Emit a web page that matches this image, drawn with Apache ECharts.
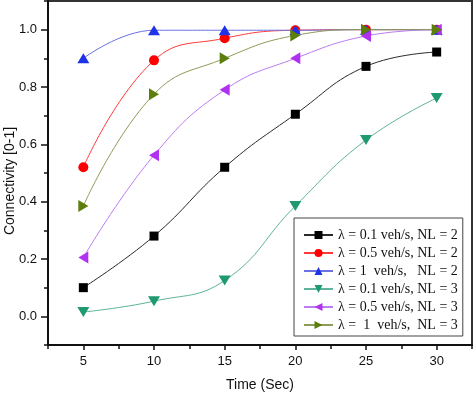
<!DOCTYPE html>
<html>
<head>
<meta charset="utf-8">
<script src="https://cdn.jsdelivr.net/npm/echarts@6/dist/echarts.min.js"></script>
<style>
html,body{margin:0;padding:0;background:#fff;}
#c{width:474px;height:395px;}
</style>
</head>
<body>
<div id="c"></div>
<script>
const times = [5, 10, 15, 20, 25, 30];
const s01nl2 = [0.10, 0.28, 0.52, 0.705, 0.872, 0.922];
const s05nl2 = [0.52, 0.893, 0.97, 0.998, 1.0, 1.0];
const s1nl2  = [0.90, 0.998, 0.998, 0.998, 1.0, 1.0];
const s01nl3 = [0.015, 0.053, 0.125, 0.385, 0.615, 0.762];
const s05nl3 = [0.205, 0.562, 0.79, 0.90, 0.978, 1.0];
const s1nl3  = [0.385, 0.775, 0.90, 0.98, 1.0, 1.0];
const names = [
  'λ = 0.1 veh/s, NL = 2',
  'λ = 0.5 veh/s, NL = 2',
  'λ = 1  veh/s,   NL = 2',
  'λ = 0.1 veh/s, NL = 3',
  'λ = 0.5 veh/s, NL = 3',
  'λ =  1  veh/s,  NL = 3'
];
const xMajorTicks = [5, 10, 15, 20, 25, 30];
const xMinorTicks = [2.5, 7.5, 12.5, 17.5, 22.5, 27.5, 32.5];
const yMajorTicks = [0, 0.2, 0.4, 0.6, 0.8, 1.0];
const yMinorTicks = [-0.1, 0.1, 0.3, 0.5, 0.7, 0.9, 1.1];

const styles = [
  {marker: '#000000', line: '#2a2a2a', symbol: 'rect', size: 9, rot: 0},
  {marker: '#ff0000', line: '#ff3a3a', symbol: 'circle', size: 10, rot: 0},
  {marker: '#1e32e8', line: '#6a72e2', symbol: 'triangle', size: [12, 10], rot: 0},
  {marker: '#1f9a70', line: '#5fb29c', symbol: 'triangle', size: [12, 10], rot: 180},
  {marker: '#b032f0', line: '#bb7cf2', symbol: 'triangle', size: [12, 10], rot: 90},
  {marker: '#5c7e0c', line: '#8d9c58', symbol: 'triangle', size: [12, 10], rot: -90}
];
const values = [s01nl2, s05nl2, s1nl2, s01nl3, s05nl3, s1nl3];

const series = values.map((v, i) => ({
  name: names[i],
  type: 'line',
  smooth: 0.45,
  data: times.map((t, j) => [t, v[j]]),
  symbol: styles[i].symbol,
  symbolSize: styles[i].size,
  symbolRotate: styles[i].rot,
  showAllSymbol: true,
  itemStyle: {color: styles[i].marker},
  lineStyle: {color: styles[i].line, width: 1},
  emphasis: {disabled: true},
  z: 2 + i
}));

const labelFont = {fontFamily: 'Liberation Sans, Arial, sans-serif', fontSize: 13, color: '#111'};
const nameFont = {fontFamily: 'Liberation Sans, Arial, sans-serif', fontSize: 14, color: '#111'};

const chart = echarts.init(document.getElementById('c'), null, {renderer: 'canvas'});
chart.setOption({
  animation: false,
  backgroundColor: '#fff',
  grid: {left: 48, right: 2, top: 1, bottom: 50, containLabel: false, outerBoundsMode: 'none',
         show: true, borderColor: '#333', borderWidth: 2, backgroundColor: 'transparent'},
  legend: {
    orient: 'vertical',
    left: 294,
    top: 218,
    padding: [10, 5, 4, 9],
    itemWidth: 29,
    itemHeight: 10,
    itemGap: 4,
    backgroundColor: '#fff',
    borderColor: '#444',
    borderWidth: 1,
    borderRadius: 0,
    textStyle: {fontFamily: 'Liberation Serif, Times New Roman, serif', fontSize: 14, color: '#111', lineHeight: 14},
    data: names
  },
  xAxis: [
    {
      type: 'value', min: 2.5, max: 32.5,
      name: 'Time (Sec)', nameLocation: 'middle', nameGap: 33, nameMoveOverlap: false,
      nameTextStyle: nameFont,
      axisLine: {show: true, onZero: false, lineStyle: {color: '#111', width: 2}},
      axisTick: {show: true, inside: false, length: 5, customValues: xMajorTicks, lineStyle: {color: '#111', width: 1.5}},
      axisLabel: {customValues: xMajorTicks, margin: 10, ...labelFont, formatter: v => String(v)},
      splitLine: {show: false}
    },
    {
      type: 'value', min: 2.5, max: 32.5, position: 'bottom',
      axisLine: {show: false, onZero: false},
      axisTick: {show: true, inside: false, length: 4, customValues: xMinorTicks, lineStyle: {color: '#111', width: 1.5}},
      axisLabel: {show: false},
      splitLine: {show: false}
    }
  ],
  yAxis: [
    {
      type: 'value', min: -0.1, max: 1.1,
      name: 'Connectivity [0-1]', nameLocation: 'middle', nameGap: 31, nameMoveOverlap: false,
      nameTextStyle: {...nameFont, padding: [0, 16, 0, 0]},
      axisLine: {show: true, onZero: false, lineStyle: {color: '#111', width: 2}},
      axisTick: {show: true, inside: false, length: 7, customValues: yMajorTicks, lineStyle: {color: '#111', width: 1.5}},
      axisLabel: {customValues: yMajorTicks, margin: 11, ...labelFont, formatter: v => v.toFixed(1)},
      splitLine: {show: false}
    },
    {
      type: 'value', min: -0.1, max: 1.1, position: 'left',
      axisLine: {show: false, onZero: false},
      axisTick: {show: true, inside: false, length: 4, customValues: yMinorTicks, lineStyle: {color: '#111', width: 1.5}},
      axisLabel: {show: false},
      splitLine: {show: false}
    }
  ],
  series: series
});
</script>
</body>
</html>
